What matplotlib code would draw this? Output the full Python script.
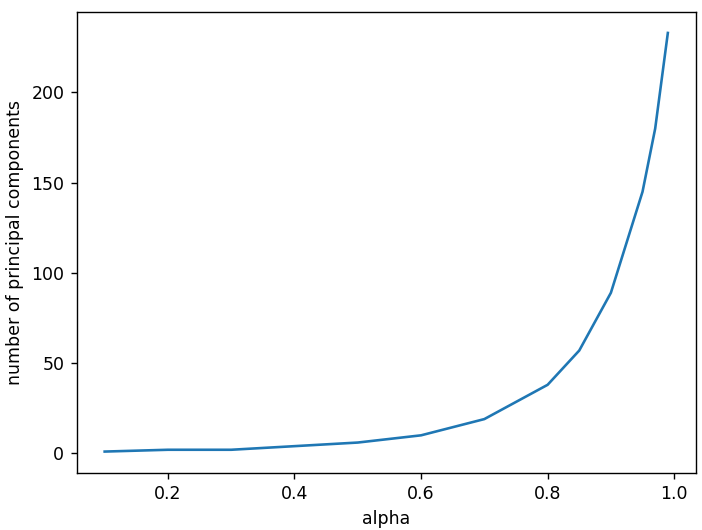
import matplotlib
matplotlib.use("Agg")
import matplotlib.pyplot as plt

alphas = [0.1, 0.2, 0.3, 0.4, 0.5, 0.6, 0.7, 0.8, 0.85, 0.9, 0.95, 0.97, 0.99]
n_components = [1, 2, 2, 4, 6, 10, 19, 38, 57, 89, 145, 180, 233]

fig, ax = plt.subplots(figsize=(702 / 125, 530 / 125), dpi=125)
fig.subplots_adjust(left=76.5 / 702, right=696 / 702, top=1 - 12 / 530, bottom=1 - 472.5 / 530)

ax.plot(alphas, n_components)
ax.set_xlabel("alpha")
ax.set_ylabel("number of principal components")

fig.savefig("out.png", dpi=125)
